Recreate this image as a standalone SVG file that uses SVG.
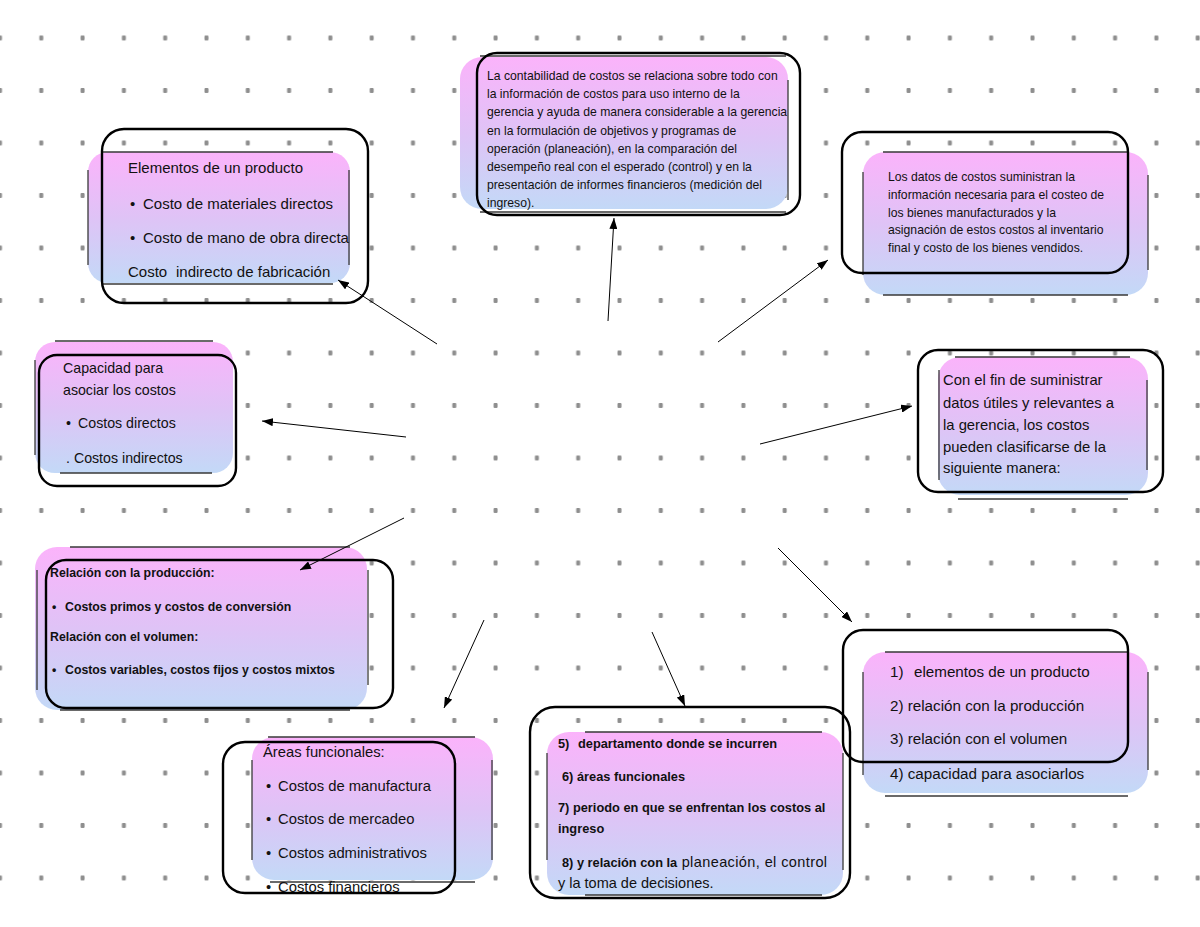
<svg xmlns="http://www.w3.org/2000/svg" width="1200" height="927" viewBox="0 0 1200 927">
<defs>
<pattern id="dots" patternUnits="userSpaceOnUse" x="-3.5" y="35.5" width="41.3" height="52.5">
<rect x="1.5" y="0" width="4" height="5" rx="1" fill="#8e8e8e"/>
</pattern>
<linearGradient id="g" x1="0" y1="0" x2="0" y2="1">
<stop offset="0" stop-color="#fbb3fb"/>
<stop offset="0.5" stop-color="#dfc3f6"/>
<stop offset="1" stop-color="#c3d9f7"/>
</linearGradient>
<marker id="ah" markerUnits="userSpaceOnUse" markerWidth="11" markerHeight="8" refX="11" refY="4" orient="auto">
<path d="M0,0 L11,4 L0,8 z" fill="#000"/>
</marker>
</defs>
<style>
.box{fill:url(#g)}
.edge{stroke:#3a3a3a;stroke-width:1.3;fill:none}
.outline{fill:none;stroke:#000;stroke-width:2.4}
.t{font-family:"Liberation Sans",Arial,sans-serif;fill:#111}
.b{font-weight:bold}
.conn line{stroke:#000;stroke-width:1}
</style>
<rect x="0" y="0" width="1200" height="927" fill="#fff"/>
<rect x="0" y="0" width="1200" height="927" fill="url(#dots)"/>

<g id="n-contabilidad">
<rect class="box" x="460" y="57" width="328" height="152" rx="22"/>
<path class="edge" d="M480,56 H786 M480,212 H786 M788,80 V200"/>
<rect class="outline" x="477" y="53" width="323" height="162" rx="20"/>
<text class="t" font-size="12.2">
<tspan x="487" y="80">La contabilidad de costos se relaciona sobre todo con</tspan>
<tspan x="487" y="98">la información de costos para uso interno de la</tspan>
<tspan x="487" y="116">gerencia y ayuda de manera considerable a la gerencia</tspan>
<tspan x="487" y="134.5">en la formulación de objetivos y programas de</tspan>
<tspan x="487" y="152.5">operación (planeación), en la comparación del</tspan>
<tspan x="487" y="170.5">desempeño real con el esperado (control) y en la</tspan>
<tspan x="487" y="188.5">presentación de informes financieros (medición del</tspan>
<tspan x="487" y="206.5">ingreso).</tspan>
</text>
</g>

<g id="n-elementos">
<rect class="box" x="88" y="152" width="262" height="131" rx="20"/>
<path class="edge" d="M102,152 H333 M102,284 H333 M88,170 V265 M349,170 V265"/>
<rect class="outline" x="102" y="129" width="266" height="174" rx="22"/>
<text class="t" font-size="15">
<tspan x="128" y="173">Elementos de un producto</tspan>
<tspan x="130" y="209">•</tspan><tspan x="143" y="209">Costo de materiales directos</tspan>
<tspan x="130" y="243">•</tspan><tspan x="143" y="243">Costo de mano de obra directa</tspan>
<tspan x="128" y="277">Costo</tspan><tspan x="176" y="277">indirecto de fabricación</tspan>
</text>
</g>

<g id="n-datos">
<rect class="box" x="863" y="152" width="285" height="143" rx="22"/>
<path class="edge" d="M883,152 H1128 M883,295 H1128 M863,172 V275 M1148,175 V270"/>
<rect class="outline" x="842" y="132" width="286" height="141" rx="20"/>
<text class="t" font-size="12.2">
<tspan x="888" y="181">Los datos de costos suministran la</tspan>
<tspan x="888" y="199">información necesaria para el costeo de</tspan>
<tspan x="888" y="216.5">los bienes manufacturados y la</tspan>
<tspan x="888" y="234">asignación de estos costos al inventario</tspan>
<tspan x="888" y="252">final y costo de los bienes vendidos.</tspan>
</text>
</g>

<g id="n-capacidad">
<rect class="box" x="35" y="342" width="198" height="131" rx="20"/>
<path class="edge" d="M55,341 H213 M60,473 H212 M35,360 V455"/>
<rect class="outline" x="39" y="355" width="197" height="131" rx="18"/>
<text class="t" font-size="14.2">
<tspan x="63" y="373">Capacidad para</tspan>
<tspan x="63" y="395">asociar los costos</tspan>
<tspan x="66" y="428">•</tspan><tspan x="78" y="428">Costos directos</tspan>
<tspan x="66" y="463">. Costos indirectos</tspan>
</text>
</g>

<g id="n-fin">
<rect class="box" x="938" y="357" width="210" height="138" rx="22"/>
<path class="edge" d="M955,357 H1130 M958,499 H1128 M939,370 V480 M1147,380 V470"/>
<rect class="outline" x="918" y="350" width="245" height="142" rx="20"/>
<text class="t" font-size="14.8">
<tspan x="943" y="385">Con el fin de suministrar</tspan>
<tspan x="943" y="407.5">datos útiles y relevantes a</tspan>
<tspan x="943" y="429.5">la gerencia, los costos</tspan>
<tspan x="943" y="451.5">pueden clasificarse de la</tspan>
<tspan x="943" y="473">siguiente manera:</tspan>
</text>
</g>

<g id="n-relacion">
<rect class="box" x="35" y="547" width="332" height="163" rx="22"/>
<path class="edge" d="M70,547 H350 M60,710 H350 M37,570 V690 M368,570 V685"/>
<rect class="outline" x="46" y="560" width="347" height="148" rx="20"/>
<text class="t b" font-size="12.3">
<tspan x="50" y="577">Relación con la producción:</tspan>
<tspan x="52" y="611">•</tspan><tspan x="65" y="611">Costos primos y costos de conversión</tspan>
<tspan x="50" y="641">Relación con el volumen:</tspan>
<tspan x="52" y="674">•</tspan><tspan x="65" y="674">Costos variables, costos fijos y costos mixtos</tspan>
</text>
</g>

<g id="n-lista1">
<rect class="box" x="863" y="652" width="285" height="141" rx="22"/>
<path class="edge" d="M885,652 H1128 M885,796 H1128 M863,672 V775 M1148,672 V770"/>
<rect class="outline" x="843" y="630" width="285" height="132" rx="20"/>
<text class="t" font-size="15.2">
<tspan x="890" y="677">1)</tspan><tspan x="914" y="677">elementos de un producto</tspan>
<tspan x="890" y="711">2) relación con la producción</tspan>
<tspan x="890" y="744">3) relación con el volumen</tspan>
<tspan x="890" y="779">4) capacidad para asociarlos</tspan>
</text>
</g>

<g id="n-areas">
<rect class="box" x="252" y="737" width="241" height="143" rx="22"/>
<path class="edge" d="M268,737 H475 M270,882 H475 M252,760 V860 M492,760 V860"/>
<rect class="outline" x="223" y="742" width="232" height="151" rx="22"/>
<text class="t" font-size="14.8">
<tspan x="263" y="757">Áreas funcionales:</tspan>
<tspan x="266" y="791">•</tspan><tspan x="278" y="791">Costos de manufactura</tspan>
<tspan x="266" y="824">•</tspan><tspan x="278" y="824">Costos de mercadeo</tspan>
<tspan x="266" y="858">•</tspan><tspan x="278" y="858">Costos administrativos</tspan>
<tspan x="266" y="892">•</tspan><tspan x="278" y="892">Costos financieros</tspan>
</text>
</g>

<g id="n-lista2">
<rect class="box" x="547" y="732" width="296" height="163" rx="22"/>
<path class="edge" d="M585,732 H822 M585,895 H822 M547,753 V860 M843,753 V870"/>
<rect class="outline" x="530" y="707" width="320" height="191" rx="25"/>
<text class="t b" font-size="12.8">
<tspan x="558" y="748">5)</tspan><tspan x="578" y="748">departamento donde se incurren</tspan>
<tspan x="562" y="781">6) áreas funcionales</tspan>
<tspan x="558" y="812">7) periodo en que se enfrentan los costos al</tspan>
<tspan x="558" y="833">ingreso</tspan>
</text>
<text class="t" x="562" y="867"><tspan class="b" font-size="12.8">8) y relación con la</tspan><tspan font-size="14.5" letter-spacing="0.4"> planeación, el control</tspan></text>
<text class="t" font-size="14.5" x="558" y="888">y la toma de decisiones.</text>
</g>

<g id="connectors" class="conn">
<line x1="608" y1="321" x2="614" y2="218" marker-end="url(#ah)"/>
<line x1="718" y1="342" x2="828" y2="260" marker-end="url(#ah)"/>
<line x1="437" y1="344" x2="338" y2="280" marker-end="url(#ah)"/>
<line x1="406" y1="437" x2="262" y2="421" marker-end="url(#ah)"/>
<line x1="760" y1="444" x2="912" y2="406" marker-end="url(#ah)"/>
<line x1="404" y1="518" x2="300" y2="570" marker-end="url(#ah)"/>
<line x1="484" y1="620" x2="444" y2="708" marker-end="url(#ah)"/>
<line x1="652" y1="632" x2="685" y2="706" marker-end="url(#ah)"/>
<line x1="778" y1="548" x2="852" y2="622" marker-end="url(#ah)"/>
</g>
</svg>
